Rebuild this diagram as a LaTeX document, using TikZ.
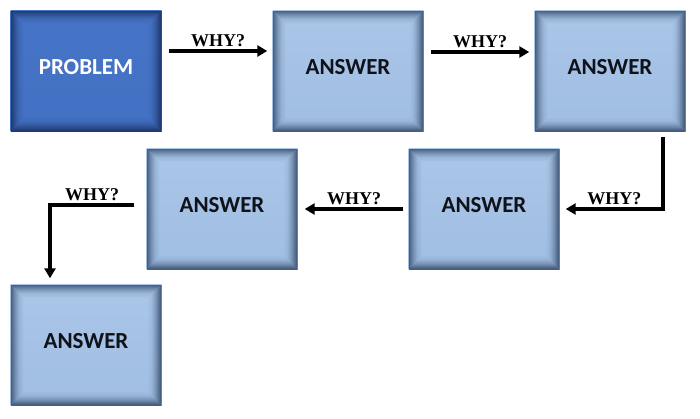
\documentclass[tikz,border=0pt]{standalone}
\usepackage{fontspec}
\setmainfont{Liberation Serif}
\newfontfamily\boxfont{Carlito}
\usetikzlibrary{arrows.meta}
\definecolor{ansfill}{RGB}{160,190,226}
\definecolor{anstop}{RGB}{170,198,233}
\definecolor{ansedge}{RGB}{50,72,105}
\definecolor{probfill}{RGB}{66,112,194}
\definecolor{probtop}{RGB}{70,116,198}
\definecolor{probedge}{RGB}{25,45,95}
\definecolor{anstext}{RGB}{15,18,25}
\tikzset{
  glow/.style={path picture={
    \foreach \i in {0,...,11}{
      \pgfmathsetmacro\op{0.8*(1-\i/12)^1.6}
      \draw[line width=1.1pt, draw=#1, draw opacity=\op]
        ([shift={(\i*1.1pt+0.55pt,-\i*1.1pt-0.55pt)}]path picture bounding box.north west)
        rectangle
        ([shift={(-\i*1.1pt-0.55pt,\i*1.1pt+0.55pt)}]path picture bounding box.south east);
    }}},
  box/.style={minimum width=151pt, minimum height=121pt, inner sep=0pt,
    text height=15pt, text depth=8pt,
    font=\boxfont\bfseries\fontsize{23}{27}\selectfont},
  ansbox/.style={box, top color=anstop, bottom color=ansfill, text=anstext, glow=ansedge},
  probbox/.style={box, top color=probtop, bottom color=probfill, text=white, glow=probedge},
  arr/.style={line width=3.2pt, -{Triangle[length=10pt,width=11pt]}},
  lbl/.style={font=\bfseries\fontsize{18}{20}\selectfont, inner sep=2.5pt, text=black}
}
\begin{document}
\begin{tikzpicture}[x=1pt,y=-1pt]
\useasboundingbox[fill=white] (0,0) rectangle (700,418);
\node[probbox] (p) at (86,71) {PROBLEM};
\node[ansbox] (a1) at (348,71) {ANSWER};
\node[ansbox] (a2) at (610,71) {ANSWER};
\node[ansbox] (a3) at (484,209) {ANSWER};
\node[ansbox] (a4) at (222,209) {ANSWER};
\node[ansbox] (a5) at (86,345) {ANSWER};
\draw[arr] ([xshift=7pt,yshift=20pt]p.east) -- node[lbl,above] (w1) {WHY?} ([xshift=-5pt,yshift=20pt]a1.west);
\draw[arr] ([xshift=7pt,yshift=19pt]a1.east) -- node[lbl,above] (w2) {WHY?} ([xshift=-5pt,yshift=19pt]a2.west);
\draw[arr] ([xshift=53pt,yshift=-5pt]a2.south) |- node[lbl,above,pos=0.75] (w3) {WHY?} ([xshift=6pt]a3.east);
\draw[arr] ([xshift=-5pt]a3.west) -- node[lbl,above] (w4) {WHY?} ([xshift=7pt]a4.east);
\draw[arr] ([xshift=-12pt,yshift=4pt]a4.west) -| node[lbl,above,pos=0.25] (w5) {WHY?} ([xshift=-36pt,yshift=6pt]a5.north);
\end{tikzpicture}
\end{document}
